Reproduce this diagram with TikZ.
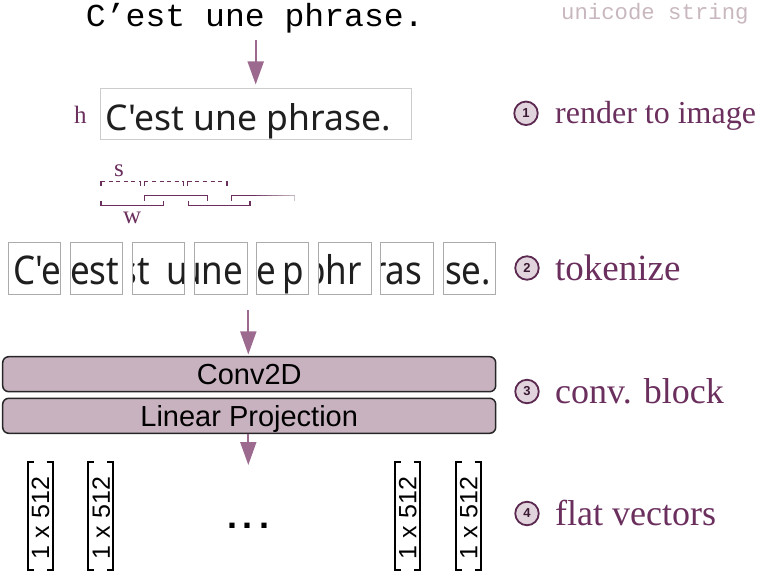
\documentclass[tikz,border=0pt]{standalone}
\usepackage{fontspec}
\usepackage{graphicx}
\setmainfont{Liberation Serif}
\newfontfamily\monof{Liberation Mono}
\newfontfamily\notof{Noto Sans}[Ligatures=TeXOff]
\newfontfamily\arialf{Liberation Sans}
\usetikzlibrary{arrows.meta}
\definecolor{plum}{HTML}{6B2F5E}
\definecolor{arrowc}{HTML}{9C6A8F}
\definecolor{circfill}{HTML}{E2D4DD}
\definecolor{boxfill}{HTML}{C9B2C0}
\definecolor{unic}{HTML}{C9B7C0}
\definecolor{tokgray}{HTML}{ABABAB}
\definecolor{imggray}{HTML}{CCCCCC}
\definecolor{fadec}{HTML}{CFC8CC}
\begin{document}
\begin{tikzpicture}[x=1pt,y=-1pt,
  flow/.style={draw=arrowc,line width=1.8pt,-{Triangle[width=16pt,length=23pt]}},
  lbl/.style={anchor=base west,inner sep=0pt,text=plum},
  numc/.style={circle,draw=plum!85!black,line width=1.8pt,fill=circfill,minimum size=23.5pt,inner sep=0pt,font=\arialf\bfseries\fontsize{13}{15}\selectfont,text=plum!55!black},
  tokbox/.style={minimum width=52pt,minimum height=51pt,inner sep=0pt},
  toktxt/.style={anchor=base west,inner sep=0pt,text=black!88,font=\notof\fontsize{35}{40}\selectfont},
  layer/.style={draw=black!85,line width=1.5pt,fill=boxfill,rounded corners=6pt,minimum width=493pt,minimum height=35pt,inner sep=0pt,text height=20.8pt,text depth=0pt,font=\arialf\fontsize{29}{33}\selectfont},
  brk/.style={draw=plum,line width=1.3pt},
  dsh/.style={brk,dash pattern=on 4pt off 3.6pt},
  sym/.style={anchor=base west,inner sep=0pt,text=plum,font=\fontsize{25}{30}\selectfont},
  vbr/.style={draw=black,line width=2pt},
  vectxt/.style={rotate=90,inner sep=0pt,font=\arialf\fontsize{25}{30}\selectfont},
  flatvec/.pic={
    \node[vectxt] (-t) at (0,0) {1 x 512};
    \draw[vbr] (-7,-56) -- (-13,-56) -- (-13,52) -- (-7,52);
    \draw[vbr] (6,-56) -- (12,-56) -- (12,52) -- (6,52);
  }]
\useasboundingbox (0,0) rectangle (760,572);

% source string
\node[anchor=base west,inner sep=0pt,font=\monof\fontsize{32}{36}\selectfont] (src) at (85.7,26.6) {\scalebox{1.035}[1]{C’est une phrase.}};
\node[anchor=base west,inner sep=0pt,text=unic,font=\monof\fontsize{22.3}{26}\selectfont] (uni) at (561,20) {unicode string};

% rendered image
\node[draw=imggray,line width=1pt,minimum width=311.7pt,minimum height=51pt,inner sep=0pt] (img) at (255.85,114.5) {};
\node[anchor=base west,inner sep=0pt,font=\notof\fontsize{35.5}{40}\selectfont,text=black!88] (imgtxt) at (105.7,130.7) {C'est une phrase.};
\node[sym] (h) at (74,123.3) {h};

\coordinate (a1) at (255.7,40);
\draw[flow,shorten >=4pt] (a1) -- (a1 |- img.north);

% window / stride brackets
\node[sym] (s) at (114,176.7) {s};
\node[sym] (w) at (123,223.3) {w};
\foreach \xa in {101,144.3,187.7}{
  \draw[brk] (\xa,185.7) -- (\xa,181.3);
  \draw[brk] (\xa+39.3,185.7) -- (\xa+39.3,181.3);
  \draw[dsh] (\xa,181.3) -- (\xa+39.3,181.3);
}
\draw[brk] (101,200.7) -- (101,205.7) -- (163.3,205.7) -- (163.3,200.7);
\draw[brk] (144.3,200.7) -- (144.3,195.7) -- (207.7,195.7) -- (207.7,200.7);
\draw[brk] (188.3,200.7) -- (188.3,205.7) -- (250,205.7) -- (250,200.7);
\draw[brk] (231.7,200.7) -- (231.7,195.7) -- (250.6,195.7);
\foreach \i [evaluate=\i as \p using {int(100-12*\i)}] in {0,...,7}{
  \draw[line width=1.3pt,draw=plum!\p!fadec] (250+5.54*\i,195.7) -- (250+5.54*\i+5.8,195.7);
}
\draw[line width=1.3pt,draw=fadec] (294.3,195.7) -- (294.3,200.7);

% tokens
\foreach \i/\xo/\org/\txt in {1/8.3/13/{C'e},2/70.7/70/{est},3/132.7/120.3/{st\hspace{16.3pt}u},4/195/180/{une},5/256.7/256/{e\hspace{-2.7pt} p},6/319/304/{phr},7/381/372/{ras},8/443.3/445/{se.}}{
  \node[tokbox] (t\i) at (\xo+26,268.5) {};
  \begin{scope}
    \clip (t\i.south west) rectangle (t\i.north east);
    \node[toktxt] (tt\i) at (\org,284) {\scalebox{1}[1.13]{\txt}};
  \end{scope}
  \draw[tokgray,line width=0.9pt] (t\i.south west) rectangle (t\i.north east);
}

% conv block
\node[layer] (conv) at (249.2,374.2) {Conv2D};
\node[layer] (lin) at (249.2,415.8) {Linear Projection};
\coordinate (a2) at (248.3,310);
\draw[flow,shorten >=1.5pt] (a2) -- (a2 |- conv.north);
\coordinate (a3) at (248.3,465);
\draw[flow] (a3 |- lin.south) -- (a3);

% flat vectors
\pic (v1) at (40.5,518) {flatvec};
\pic (v2) at (101.2,518) {flatvec};
\pic (v3) at (407.8,518) {flatvec};
\pic (v4) at (468.7,518) {flatvec};
\node[anchor=base,inner sep=0pt,font=\arialf\bfseries\fontsize{36}{40}\selectfont] (dots) at (248,528.5) {.\hspace{6pt}.\hspace{6pt}.};

% step labels
\node[numc] (n1) at (526,113.3) {1};
\node[lbl,font=\fontsize{32}{36}\selectfont] (l1) at (555,123.3) {render to image};
\node[numc] (n2) at (527,268) {2};
\node[lbl,font=\fontsize{37}{42}\selectfont] (l2) at (555,280) {tokenize};
\node[numc] (n3) at (527,391.5) {3};
\node[lbl,font=\fontsize{36}{41}\selectfont] (l3) at (555,403) {conv. block};
\node[numc] (n4) at (527,513.5) {4};
\node[lbl,font=\fontsize{36}{41}\selectfont] (l4) at (555,525) {flat vectors};
\end{tikzpicture}
\end{document}
